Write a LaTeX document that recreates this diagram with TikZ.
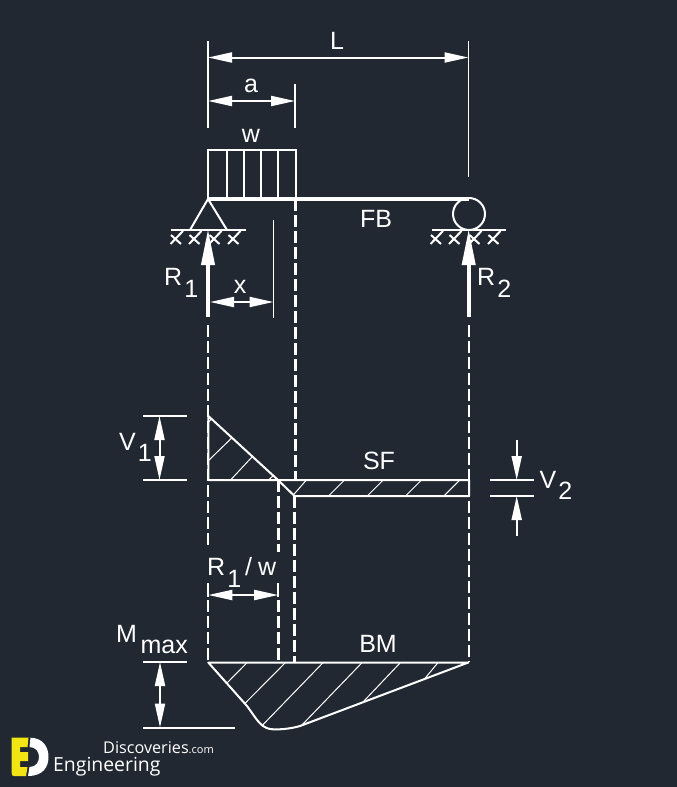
\documentclass[tikz,border=0pt]{standalone}
\usepackage{fontspec}
\setmainfont{Liberation Sans}
\newfontfamily\logofont{Open Sans}
\usetikzlibrary{arrows.meta}
\definecolor{boardbg}{RGB}{34,40,49}
\definecolor{logoyellow}{RGB}{243,228,20}
\newcommand{\lowtext}[1]{\kern2pt\raisebox{-11.5pt}{#1}}
\tikzset{
    thinline/.style={white,line width=2pt},
    extline/.style={white,line width=1.6pt},
    beamline/.style={white,line width=3.8pt},
    hatchline/.style={white,line width=1pt},
    dashthin/.style={white,line width=2pt,dash pattern=on 11.5pt off 4.5pt},
    dashthick/.style={white,line width=3pt,dash pattern=on 11.5pt off 4.5pt},
    dimline/.style={white,line width=2pt,{Triangle[length=24pt,width=10pt]}-{Triangle[length=24pt,width=10pt]}},
    arrowdim/.style={white,line width=2pt,-{Triangle[length=24pt,width=10pt]}},
    reaction/.style={white,line width=3.8pt,-{Triangle[length=36pt,width=13pt]}},
    textlabel/.style={white,inner sep=0pt,font=\fontsize{25}{29}\selectfont},
    basetext/.style={textlabel,anchor=base west}
}
\begin{document}
\begin{tikzpicture}[x=1pt,y=-1pt]
    \fill[boardbg] (0,0) rectangle (677,787);
    \useasboundingbox (0,0) rectangle (677,787);

    % beam and load
    \coordinate (beamL) at (208,199);
    \coordinate (beamR) at (469,199);
    \coordinate (loadTL) at (208,149.5);
    \coordinate (loadTR) at (295.5,149.5);
    \coordinate (loadBR) at (295.5,199);
    \draw[beamline] (beamL) -- (beamR);
    \draw[thinline] (beamL) -- (loadTL) -- (loadTR) -- (loadBR);
    \foreach \xpos in {226.5,244,261,278} {
        \draw[thinline] (\xpos,149.5) -- (\xpos,199);
    }

    % supports
    \coordinate (triL) at (190,230);
    \coordinate (triR) at (227,230);
    \draw[thinline,line join=round] (triL) -- (beamL) -- (triR);
    \coordinate (gndLa) at (171,230);
    \coordinate (gndLb) at (246,230);
    \coordinate (gndRa) at (432,230);
    \coordinate (gndRb) at (506,230);
    \draw[thinline] (gndLa) -- (gndLb);
    \draw[thinline] (gndRa) -- (gndRb);
    \node[circle,draw=white,line width=2pt,minimum size=32pt,inner sep=0pt] (roller) at (469,214) {};
    \foreach \xpos in {176,194.5,214.5,233.5,436,454.5,474.5,493.5} {
        \draw[thinline] (\xpos+7,231) -- (\xpos-5.5,244);
        \draw[thinline] (\xpos-5,235) -- (\xpos+5,244);
    }

    % reactions
    \coordinate (reactLa) at (208,317);
    \coordinate (reactLb) at (208,229);
    \coordinate (reactRa) at (468.7,317);
    \coordinate (reactRb) at (468.7,229);
    \draw[reaction] (reactLa) -- (reactLb);
    \draw[reaction] (reactRa) -- (reactRb);

    % dimensions on top
    \coordinate (extLa) at (208,41);
    \coordinate (extLb) at (208,128);
    \coordinate (extMa) at (295,84);
    \coordinate (extMb) at (295,128);
    \coordinate (extRa) at (468.5,41);
    \coordinate (extRb) at (468.5,177);
    \draw[extline] (extLa) -- (extLb);
    \draw[extline] (extMa) -- (extMb);
    \draw[extline] (extRa) -- (extRb);
    \draw[dimline] (208,57.5) -- (468.5,57.5);
    \draw[dimline] (208,101) -- (295,101);
    \coordinate (extXa) at (273.5,220);
    \coordinate (extXb) at (273.5,318);
    \draw[extline] (extXa) -- (extXb);
    \draw[dimline] (210,302) -- (273.5,302);

    % dashed projections
    \coordinate (dashLa) at (208.3,325);
    \coordinate (dashLb) at (208.3,548);
    \coordinate (dashLc) at (208.3,600);
    \coordinate (dashLd) at (208.3,662);
    \coordinate (dashRa) at (468.5,325);
    \coordinate (dashRb) at (468.5,662);
    \coordinate (dashMa) at (295,199);
    \coordinate (dashMb) at (295,480);
    \coordinate (dashPa) at (278.2,480);
    \coordinate (dashPb) at (278.2,552);
    \coordinate (dashPc) at (278.2,600);
    \coordinate (dashPd) at (278.2,662);
    \coordinate (dashQa) at (294.8,496);
    \coordinate (dashQb) at (294.8,662);
    \draw[dashthin] (dashLa) -- (dashLb);
    \draw[dashthin] (dashLc) -- (dashLd);
    \draw[dashthin] (dashRa) -- (dashRb);
    \draw[dashthick] (dashMa) -- (dashMb);
    \draw[dashthick] (dashPa) -- (dashPb);
    \draw[dashthick] (dashPc) -- (dashPd);
    \draw[dashthick] (dashQa) -- (dashQb);

    % shear force
    \coordinate (sfTop) at (208.3,416);
    \coordinate (sfBase) at (208.3,480);
    \coordinate (sfCross) at (278,480);
    \coordinate (sfLow) at (294.5,496);
    \coordinate (sfEndT) at (469,480);
    \coordinate (sfEndB) at (469,496);
    \draw[thinline,line join=round] (sfTop) -- (sfBase) -- (sfEndT) -- (sfEndB) -- (sfLow) -- (sfCross) -- cycle;
    \draw[hatchline] (208,423) -- (212,418);
    \draw[hatchline] (208,461) -- (231.7,438);
    \draw[hatchline] (231,479.5) -- (251.7,457.3);
    \draw[hatchline] (269,479.5) -- (274,475);
    \draw[hatchline] (293.3,495) -- (306,480.5);
    \foreach \xpos in {329,367.7,406,444.3} {
        \draw[hatchline] (\xpos,495.5) -- (\xpos+15,480.5);
    }

    % bending moment
    \coordinate (bmL) at (208.3,662.5);
    \coordinate (bmR) at (468.3,662.5);
    \coordinate (bmA) at (247,706);
    \coordinate (bmB) at (300,726);
    \draw[thinline,line join=round] (bmL) -- (bmR) -- (bmB)
        .. controls (290,729) and (277,730) .. (270,729)
        .. controls (260,727) and (256,718) .. (bmA) -- cycle;
    \draw[hatchline] (226.7,683.3) -- (246.7,663);
    \draw[hatchline] (245,703.3) -- (285,663);
    \draw[hatchline] (261.7,726) -- (322.7,663);
    \draw[hatchline] (301,726) -- (361.7,663);
    \draw[hatchline] (363.3,701.7) -- (400,663);
    \draw[hatchline] (425,678.3) -- (437.7,663);

    % side dimensions
    \draw[thinline] (143,416) -- (187,416);
    \draw[thinline] (143,480) -- (187,480);
    \draw[dimline] (159.5,416) -- (159.5,480);
    \draw[thinline] (490,480) -- (534,480);
    \draw[thinline] (490,496) -- (534,496);
    \coordinate (vTwoA) at (516.7,440);
    \coordinate (vTwoB) at (516.7,536);
    \draw[arrowdim] (vTwoA) -- (516.7,480);
    \draw[arrowdim] (vTwoB) -- (516.7,496);
    \draw[thinline] (208.3,583) -- (208.3,597);
    \draw[thinline] (278.2,583) -- (278.2,597);
    \draw[dimline] (208.3,595) -- (278.2,595);
    \draw[thinline] (143,662) -- (187,662);
    \draw[thinline] (143,727.5) -- (235,727.5);
    \draw[dimline] (160,662) -- (160,727.5);

    % labels
    \node[textlabel] (lblL) at (337,41) {L};
    \node[textlabel] (lblA) at (251,86) {a};
    \node[textlabel] (lblW) at (251,136) {w};
    \node[textlabel] (lblFB) at (376,219) {FB};
    \node[textlabel] (lblX) at (240,287) {x};
    \node[textlabel] (lblSF) at (379,461) {SF};
    \node[textlabel] (lblBM) at (378,644) {BM};
    \node[basetext] (lblRone) at (164,285.7) {R\lowtext{1}};
    \node[basetext] (lblRtwo) at (477,285.7) {R\lowtext{2}};
    \node[basetext] (lblVone) at (119,450) {V\lowtext{1}};
    \node[basetext] (lblVtwo) at (539.5,488) {V\lowtext{2}};
    \node[basetext] (lblRw) at (207,575.7) {R\lowtext{1}\kern4pt/\kern6pt w};
    \node[basetext] (lblM) at (116,642) {M\kern3.5pt\raisebox{-11pt}{max}};

    % logo
    \fill[logoyellow] (11.7,737.7) -- (28.5,737.7) -- (27.5,747) -- (20,747) -- (20,752)
        -- (28,752) -- (28,761) -- (20,761) -- (20,767) -- (27.5,767) -- (26,776) -- (14,776)
        .. controls (12,776) and (11.7,775) .. (11.7,773) -- cycle;
    \fill[white] (30.5,737.7) .. controls (43,738) and (48.5,747) .. (48.5,757)
        .. controls (48.5,767) and (43,776) .. (28,776) -- (29.5,767)
        .. controls (36,767) and (39,762) .. (39,757)
        .. controls (39,752) and (36,747) .. (29.5,747) -- cycle;
    \node[white,inner sep=0pt,anchor=base west,font=\logofont\fontsize{16.2}{18}\selectfont] (logoTop) at (103,753)
        {Discoveries{\fontsize{11}{13}\selectfont.com}};
    \node[white,inner sep=0pt,anchor=base west,font=\logofont\fontsize{19.4}{22}\selectfont] (logoBottom) at (53,771)
        {Engineering};
\end{tikzpicture}
\end{document}
